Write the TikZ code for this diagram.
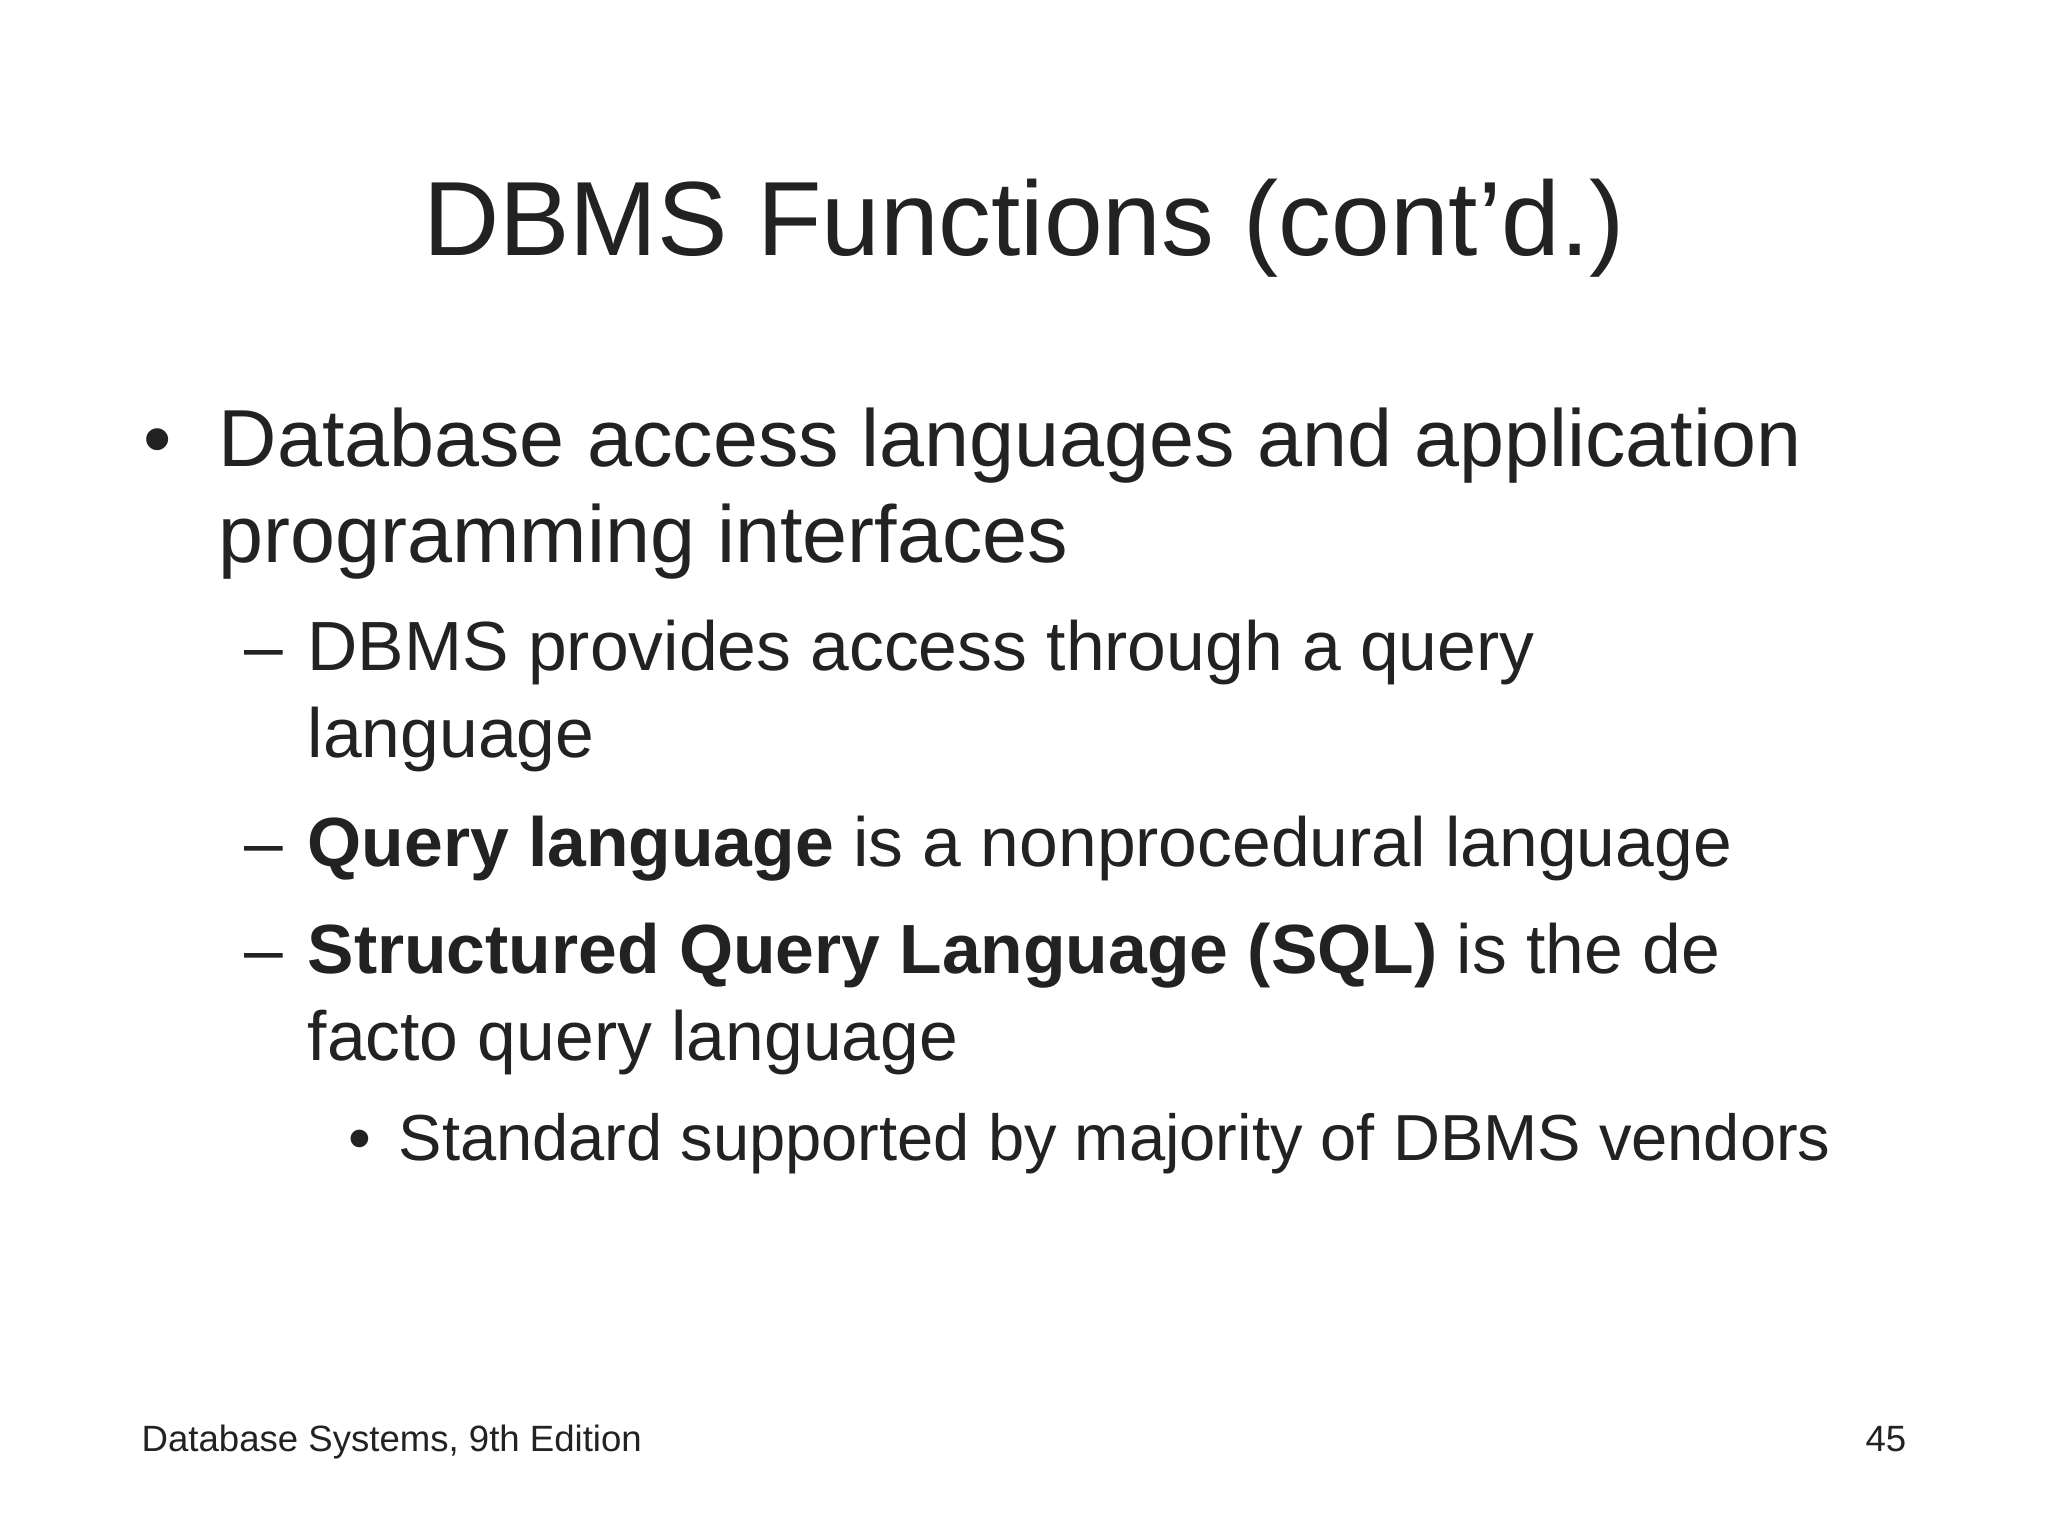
\documentclass[tikz,border=0pt]{standalone}
\usepackage{fontspec}
\setmainfont{Liberation Sans}
\definecolor{txt}{HTML}{222222}
\begin{document}
\begin{tikzpicture}[x=0.01cm,y=-0.01cm,
  t/.style={anchor=base west,inner sep=0,text=txt},
  l1/.style={t,font=\fontsize{23}{27}\selectfont},
  l2/.style={t,font=\fontsize{19.8}{24}\selectfont},
  l3/.style={t,font=\fontsize{18.5}{22}\selectfont},
  ft/.style={inner sep=0,text=txt,font=\fontsize{10.4}{12}\selectfont}]
\fill[white] (0,0) rectangle (2048,1536);
\node[inner sep=0,anchor=base,text=txt,font=\fontsize{30}{36}\selectfont] (title) at (1024,255) {DBMS Functions (cont'd.)};
\node[l1] (b1d) at (143,466) {•};
\node[l1] (b1a) at (218,466) {Database access languages and application};
\node[l1] (b1b) at (218,562) {programming interfaces};
\node[l2] (d1) at (244,670) {–};
\node[l2] (s1a) at (307,670) {DBMS provides access through a query};
\node[l2] (s1b) at (307,757) {language};
\node[l2] (d2) at (244,866) {–};
\node[l2] (s2) at (307,866) {\textbf{Query language} is a nonprocedural language};
\node[l2] (d3) at (244,973) {–};
\node[l2] (s3a) at (307,973) {\textbf{Structured Query Language (SQL)} is the de};
\node[l2] (s3b) at (307,1060) {facto query language};
\node[l3] (b3d) at (348,1160) {•};
\node[l3] (b3) at (398,1160) {Standard supported by majority of DBMS vendors};
\node[ft,anchor=base west] (f1) at (141,1451) {Database Systems, 9th Edition};
\node[ft,anchor=base east] (f2) at (1907,1451) {45};
\end{tikzpicture}
\end{document}
